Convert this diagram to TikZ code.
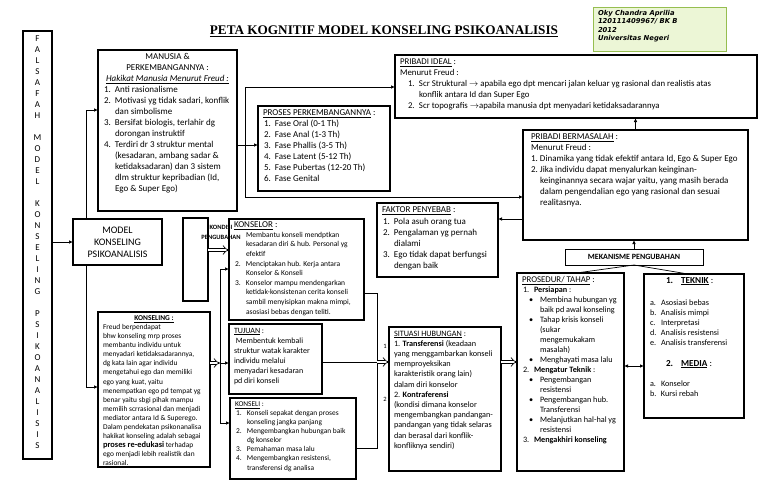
\documentclass[tikz,border=0pt]{standalone}
\usepackage{fontspec}
\setmainfont{Carlito}
\newfontfamily\titlefont{Liberation Serif}
\newfontfamily\namefont{DejaVu Sans}
\usetikzlibrary{arrows.meta,calc}

\definecolor{namefill}{RGB}{236,246,214}
\definecolor{nameline}{RGB}{150,190,80}

\newlength{\numl}\setlength{\numl}{1pt}
\newlength{\numw}\setlength{\numw}{12pt}
\newlength{\boxw}
\newcommand{\fs}[2]{\fontsize{#1}{#2}\selectfont}
\newcommand{\pane}[3]{\setlength{\boxw}{\dimexpr #1pt-10pt\relax}%
  \makebox[\boxw][l]{\begin{minipage}[c][\dimexpr #2pt-4pt\relax][t]{400pt}\raggedright\strut #3\end{minipage}}}
\newcommand{\ctr}[1]{\makebox[\boxw][c]{#1}}
\newcommand{\numln}[2]{\makebox[\numw][l]{\hspace*{\numl}#1}#2}
\newcommand{\contln}{\hspace*{\numw}}
\newcommand{\bul}{\hspace*{7pt}\makebox[11pt][l]{\textbullet}}
\newcommand{\bulc}{\hspace*{18pt}}

\begin{document}
\begin{tikzpicture}[x=1pt,y=-1pt,
  box/.style={draw, line width=1.3pt, anchor=north west, inner sep=0pt, outer sep=0pt},
  arr/.style={line width=0.7pt, -{Latex[length=4pt,width=3.5pt]}},
  link/.style={line width=0.7pt},
  fat/.style={double, double distance=2.6pt, line width=0.7pt, -{Implies}},
  both/.style={line width=0.8pt, {Latex[length=4pt,width=3.5pt]}-{Latex[length=4pt,width=3.5pt]}}]
  \useasboundingbox (0,0) rectangle (768,503);

  % Title and name tag
  \node[font=\titlefont\bfseries\fs{13.2}{14}, anchor=base] (title) at (384,35)
    {\underline{PETA KOGNITIF MODEL KONSELING PSIKOANALISIS}};
  \node[box, draw=nameline, fill=namefill, line width=0.8pt, minimum width=133, minimum height=44,
    font=\namefont\bfseries\itshape\fs{6.8}{8.6}] (author) at (593,7)
    {\pane{133}{44}{Oky Chandra Aprilia\\120111409967/ BK B\\2012\\Universitas Negeri}};

  % Falsafah column
  \node[box, minimum width=29, minimum height=428] (falsafah) at (23,31) {};
  \foreach \ch [count=\i] in {F,A,L,S,A,F,A,H,{},M,O,D,E,L,{},K,O,N,S,E,L,I,N,G,{},P,S,I,K,O,A,N,A,L,I,S,I,S}
    \node[font=\fs{9}{9}] (ltr\i) at (37.5,{39+11*(\i-1)}) {\ch};

  % Left part
  \node[box, minimum width=89, minimum height=46, align=center, font=\fs{10}{12}] (model) at (73,219)
    {MODEL\\KONSELING\\PSIKOANALISIS};
  \node[box, minimum width=139, minimum height=161, font=\fs{9}{11}] (manusia) at (98,50) {\pane{139}{161}{%
    \ctr{MANUSIA \&}\\
    \ctr{PERKEMBANGANNYA :}\\
    \ctr{\textit{\underline{Hakikat Manusia Menurut Freud :}}}\\
    \numln{1.}{Anti rasionalisme}\\
    \numln{2.}{Motivasi yg tidak sadari, konflik}\\
    \contln dan simbolisme\\
    \numln{3.}{Bersifat biologis, terlahir dg}\\
    \contln dorongan instruktif\\
    \numln{4.}{Terdiri dr 3 struktur mental}\\
    \contln (kesadaran, ambang sadar \&\\
    \contln ketidaksadaran) dan 3 sistem\\
    \contln dlm struktur kepribadian (Id,\\
    \contln Ego \& Super Ego)}};
  \node[box, minimum width=112, minimum height=155, font=\fs{7.4}{9.1}] (konseling) at (98,312) {\pane{112}{155}{%
    \ctr{\textbf{\underline{KONSELING :}}}\\
    Freud berpendapat\\
    bhw konseling mrp proses\\
    membantu individu untuk\\
    menyadari ketidaksadarannya,\\
    dg kata lain agar individu\\
    mengetahui ego dan memiliki\\
    ego yang kuat, yaitu\\
    menempatkan ego pd tempat yg\\
    benar yaitu sbgi pihak mampu\\
    memilih scrrasional dan menjadi\\
    mediator antara Id \& Superego.\\
    Dalam pendekatan psikonanalisa\\
    hakikat konseling adalah sebagai\\
    {\fs{8.4}{9.1}\textbf{proses re-edukasi}} terhadap\\
    ego menjadi lebih realistik dan\\
    rasional.}};

  % Middle part
  \node[box, minimum width=132, minimum height=85, font=\fs{9}{11}] (proses) at (258,106) {\pane{132}{85}{%
    \underline{PROSES PERKEMBANGANNYA} :\\
    \numln{1.}{Fase Oral (0-1 Th)}\\
    \numln{2.}{Fase Anal (1-3 Th)}\\
    \numln{3.}{Fase Phallis (3-5 Th)}\\
    \numln{4.}{Fase Latent (5-12 Th)}\\
    \numln{5.}{Fase Pubertas (12-20 Th)}\\
    \numln{6.}{Fase Genital}}};
  \node[box, minimum width=25, minimum height=83] (kondisi) at (183,218) {};
  \node[box, minimum width=135, minimum height=101, font=\fs{7.5}{9.6}] (konselor) at (229,219) {\pane{135}{101}{%
    {\fs{9}{9.6}\underline{KONSELOR} :}\\
    \contln Membantu konseli mendptkan\\
    \contln kesadaran diri \& hub. Personal yg\\
    \contln efektif\\
    \numln{2.}{Menciptakan hub. Kerja antara}\\
    \contln Konselor \& Konseli\\
    \numln{3.}{Konselor mampu mendengarkan}\\
    \contln ketidak-konsistenan cerita konseli\\
    \contln sambil menyisipkan makna mimpi,\\
    \contln asosiasi bebas dengan teliti.}};
  \node[font=\bfseries\fs{6.5}{10}, align=center] (kondisilbl) at (221,232) {KONDISI\\PENGUBAHAN};
  \node[box, minimum width=93, minimum height=70, font=\fs{8}{10}] (tujuan) at (229,324) {\pane{93}{70}{%
    \underline{TUJUAN} :\\
    ~Membentuk kembali\\
    struktur watak karakter\\
    individu melalui\\
    menyadari kesadaran\\
    pd diri konseli}};
  \node[box, minimum width=126, minimum height=81, font=\fs{7.4}{9.1}] (konseli) at (230,398) {\pane{126}{81}{%
    \underline{KONSELI} :\\
    \numln{1.}{Konseli sepakat dengan proses}\\
    \contln konseling jangka panjang\\
    \numln{2.}{Mengembangkan hubungan baik}\\
    \contln dg konselor\\
    \numln{3.}{Pemahaman masa lalu}\\
    \numln{4.}{Mengembangkan resistensi,}\\
    \contln transferensi dg analisa}};
  \node[box, minimum width=121, minimum height=74, font=\fs{9}{11.2}] (faktor) at (377,203) {\pane{121}{74}{%
    \underline{FAKTOR PENYEBAB} :\\
    \numln{1.}{Pola asuh orang tua}\\
    \numln{2.}{Pengalaman yg pernah}\\
    \contln dialami\\
    \numln{3.}{Ego tidak dapat berfungsi}\\
    \contln dengan baik}};
  \node[box, minimum width=112, minimum height=144, font=\fs{8.2}{10.2}] (situasi) at (389,327) {\pane{112}{144}{%
    \underline{SITUASI HUBUNGAN} :\\
    1. \textbf{Transferensi} (keadaan\\
    yang menggambarkan konseli\\
    memproyeksikan\\
    karakteristik orang lain)\\
    dalam diri konselor\\
    2. \textbf{Kontraferensi}\\
    (kondisi dimana konselor\\
    mengembangkan pandangan-\\
    pandangan yang tidak selaras\\
    dan berasal dari konflik-\\
    konfliknya sendiri)}};
  \node[font=\fs{6.5}{6.5}] (situasiA) at (385,346) {1};
  \node[font=\fs{6.5}{6.5}] (situasiB) at (385,399) {2};

  % Right part
  \node[box, minimum width=362, minimum height=63, font=\fs{8.8}{11}] (ideal) at (395,55) {\pane{362}{63}{%
    \setlength{\numl}{8pt}\setlength{\numw}{19pt}%
    \underline{PRIBADI IDEAL} :\\
    Menurut Freud :\\
    \numln{1.}{Scr Struktural $\rightarrow$ apabila ego dpt mencari jalan keluar yg rasional dan realistis atas}\\
    \contln konflik antara Id dan Super Ego\\
    \numln{2.}{Scr topografis $\rightarrow$apabila manusia dpt menyadari ketidaksadarannya}}};
  \node[box, minimum width=225, minimum height=110, font=\fs{9}{11}] (masalah) at (523,130) {\pane{225}{110}{%
    \setlength{\numl}{3pt}\setlength{\numw}{12pt}%
    \hspace*{3pt}\underline{PRIBADI BERMASALAH} :\\
    \hspace*{3pt}Menurut Freud :\\
    \numln{1.}{Dinamika yang tidak efektif antara Id, Ego \& Super Ego}\\
    \numln{2.}{Jika individu dapat menyalurkan keinginan-}\\
    \contln keinginannya secara wajar yaitu, yang masih berada\\
    \contln dalam pengendalian ego yang rasional dan sesuai\\
    \contln realitasnya.}};
  \node[box, line width=1pt, minimum width=138, minimum height=16, font=\bfseries\fs{8}{8}] (mek) at (565,249)
    {MEKANISME PENGUBAHAN};
  \node[box, minimum width=107, minimum height=198, font=\fs{8.2}{10}] (prosedur) at (517,273) {\pane{107}{198}{%
    {\fs{8.8}{10}\underline{PROSEDUR/ TAHAP} :}\\
    \numln{1.}{\textbf{Persiapan} :}\\
    \bul Membina hubungan yg\\
    \bulc baik pd awal konseling\\
    \bul Tahap krisis konseli\\
    \bulc (sukar\\
    \bulc mengemukakam\\
    \bulc masalah)\\
    \bul Menghayati masa lalu\\
    \numln{2.}{\textbf{Mengatur Teknik} :}\\
    \bul Pengembangan\\
    \bulc resistensi\\
    \bul Pengembangan hub.\\
    \bulc Transferensi\\
    \bul Melanjutkan hal-hal yg\\
    \bulc resistensi\\
    \numln{3.}{\textbf{Mengakhiri konseling}}}};
  \node[box, minimum width=100, minimum height=144, font=\fs{8.2}{10}] (teknik) at (644,274) {\pane{100}{144}{%
    \hspace*{17pt}{\fs{9.2}{10}\textbf{1.}\hspace{8pt}\textbf{\underline{TEKNIK}} :}\\[12pt]
    \numln{a.}{Asosiasi bebas}\\
    \numln{b.}{Analisis mimpi}\\
    \numln{c.}{Interpretasi}\\
    \numln{d.}{Analisis resistensi}\\
    \numln{e.}{Analisis transferensi}\\[11pt]
    \hspace*{17pt}{\fs{9.2}{10}\textbf{2.}\hspace{8pt}\textbf{\underline{MEDIA}} :}\\[10pt]
    \numln{a.}{Konselor}\\
    \numln{b.}{Kursi rebah}}};

  % Connectors
  \coordinate (mUp) at (86,110);
  \coordinate (mDown) at (86,387);
  \coordinate (split) at (245,145);
  \coordinate (jIdeal) at (245,87);
  \coordinate (jMasalah) at (245,197);
  \coordinate (cause) at (510,219);
  \coordinate (kondY) at (218,250);
  \coordinate (busL) at (220,363);
  \coordinate (busLtop) at (220,269);
  \coordinate (busLbot) at (220,423);
  \coordinate (busR) at (377,293);
  \coordinate (busRmid) at (377,362);
  \coordinate (busRbot) at (377,448);
  \coordinate (pair) at (634,366);

  \draw[arr] (falsafah.east |- model.west) -- (model.west);
  \draw[arr] (model.north -| mUp) -- (mUp) -- (manusia.west |- mUp);
  \draw[arr] (model.south -| mDown) -- (mDown) -- (konseling.west |- mDown);
  \draw[arr] (manusia.east |- split) -- (proses.west |- split);
  \draw[link] (jIdeal) -- (jMasalah);
  \draw[arr] (jIdeal) -- (ideal.west |- jIdeal);
  \draw[arr] (jMasalah) -- (masalah.west |- jMasalah);
  \draw[arr] (masalah.north) -- (masalah.north |- ideal.south);
  \draw[arr] (masalah.west |- cause) -- (faktor.east |- cause);
  \draw[arr] (mek.north) -- (mek.north |- masalah.south);
  \draw[link] (mek.south) -- ($(prosedur.north)+(6,0)$);
  \draw[link] (mek.south) -- ($(teknik.north)+(-6,0)$);
  \draw[both] (prosedur.east |- pair) -- (teknik.west |- pair);

  \draw[fat] (kondisi.east |- kondY) -- (konselor.west |- kondY);
  \draw[fat] (konseling.east |- busL) -- (busL);
  \draw[link] (busLtop) -- (busLbot);
  \draw[arr] (busLtop) -- (konselor.west |- busLtop);
  \draw[arr] (busL) -- (tujuan.west |- busL);
  \draw[arr] (busLbot) -- (konseli.west |- busLbot);

  \draw[link] (konselor.east |- busR) -- (busR) -- (busRbot) -- (konseli.east |- busRbot);
  \draw[link] (tujuan.east |- busRmid) -- (busRmid);
  \draw[fat] (busRmid) -- (situasi.west |- busRmid);
  \draw[fat] (situasi.east |- busRmid) -- (prosedur.west |- busRmid);
\end{tikzpicture}
\end{document}
